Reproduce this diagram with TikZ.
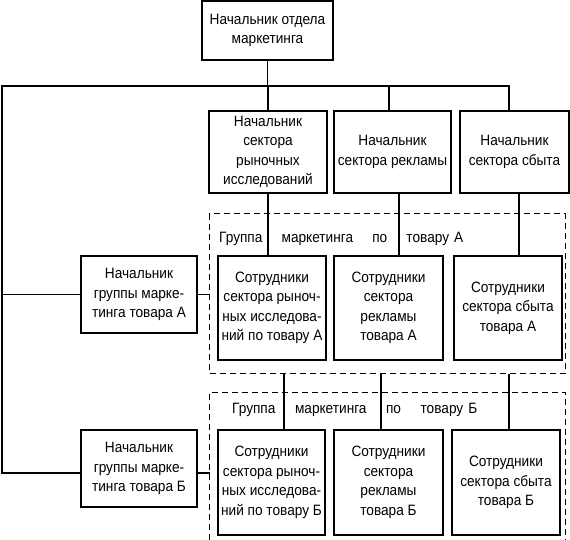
\documentclass[tikz,border=0pt]{standalone}
\usepackage{fontspec}
\setmainfont{Liberation Sans}[FakeStretch=0.91]
\usetikzlibrary{positioning}

\tikzset{
  box/.style={draw, line width=1.1pt, align=center, inner sep=2pt,
    font=\fontsize{15}{19.5}\selectfont},
  grp/.style={draw, line width=1pt, dash pattern=on 6pt off 4pt},
  lbl/.style={anchor=west, inner sep=0pt, text width=#1,
    font=\fontsize{15}{19.5}\selectfont},
  link/.style={line width=1.1pt},
}

\begin{document}
\begin{tikzpicture}[x=1pt, y=-1pt]
  \useasboundingbox (0,0) rectangle (570,540);

  % head of department and sector heads
  \node[box, minimum width=131pt, minimum height=59pt] (top) at (267.5,30.5) {Начальник отдела\\маркетинга};
  \node[box, minimum width=118pt, minimum height=82pt] (S1) at (268,152) {Начальник\\сектора\\рыночных\\исследований};
  \node[box, minimum width=117pt, minimum height=82pt] (S2) at (392.5,152) {Начальник\\сектора рекламы};
  \node[box, minimum width=109pt, minimum height=82pt] (S3) at (514.5,152) {Начальник\\сектора сбыта};

  % group A
  \node[grp, minimum width=355.5pt, minimum height=159pt] (grpA) at (387.25,293.5) {};
  \node[lbl=244pt] (lblA) at (219,239) {Группа\hfill маркетинга\hfill по\hfill товару А};
  \node[box, minimum width=116pt, minimum height=77pt] (GA) at (139,294.5) {Начальник\\группы марке-\\тинга товара А};
  \node[box, minimum width=108pt, minimum height=104pt] (A1) at (272,308) {Сотрудники\\сектора рыноч-\\ных исследова-\\ний по товару А};
  \node[box, minimum width=109pt, minimum height=104pt] (A2) at (388.5,308) {Сотрудники\\сектора\\рекламы\\товара А};
  \node[box, minimum width=108pt, minimum height=104pt] (A3) at (508,308) {Сотрудники\\сектора сбыта\\товара А};

  % group B (frame runs off the bottom)
  \coordinate (grpBl) at (209.5,392);
  \coordinate (grpBr) at (565,392);
  \draw[grp] (grpBl |- 0,540) -- (grpBl) -- (grpBr) -- (grpBr |- 0,540);
  \node[lbl=245pt] (lblB) at (232,410) {Группа\hfill маркетинга\hfill по\hfill товару Б};
  \node[box, minimum width=116pt, minimum height=77pt] (GB) at (139,468.5) {Начальник\\группы марке-\\тинга товара Б};
  \node[box, minimum width=107pt, minimum height=105pt] (B1) at (271.5,482.5) {Сотрудники\\сектора рыноч-\\ных исследова-\\ний по товару Б};
  \node[box, minimum width=109pt, minimum height=105pt] (B2) at (388.5,482.5) {Сотрудники\\сектора\\рекламы\\товара Б};
  \node[box, minimum width=108pt, minimum height=105pt] (B3) at (506,482.5) {Сотрудники\\сектора сбыта\\товара Б};

  % connectors
  \coordinate (bl) at (2,86);
  \draw[link] (top.south) -- (top.south |- bl);
  \draw[link] ([xshift=-5.5pt]S3.north) |- (bl) -- (bl |- 0,473) -- ([yshift=-4.5pt]GB.west);
  \draw[link] (GA.west) -- (GA.west -| bl);
  \draw[link] (S1.north) -- (S1.north |- bl);
  \draw[link] ([xshift=-3.5pt]S2.north) -- ([xshift=-3.5pt]S2.north |- bl);
  \draw[link] (S1.south) -- (S1.south |- A1.north);
  \draw[link] ([xshift=6.5pt]S2.south) -- ([xshift=6.5pt]S2.south |- A2.north);
  \draw[link] ([xshift=4.5pt]S3.south) -- ([xshift=4.5pt]S3.south |- A3.north);
  \draw[link] (GA.east) -- (GA.east -| grpA.west);
  \draw[link] ([yshift=-4.5pt]GB.east) -- ([yshift=-4.5pt]GB.east -| grpBl);
  \foreach \n/\dx in {B1/12.5, B2/-7.5, B3/3}
    \draw[link] ([xshift=\dx pt]\n.north) -- ([xshift=\dx pt]\n.north |- grpA.south);
\end{tikzpicture}
\end{document}
